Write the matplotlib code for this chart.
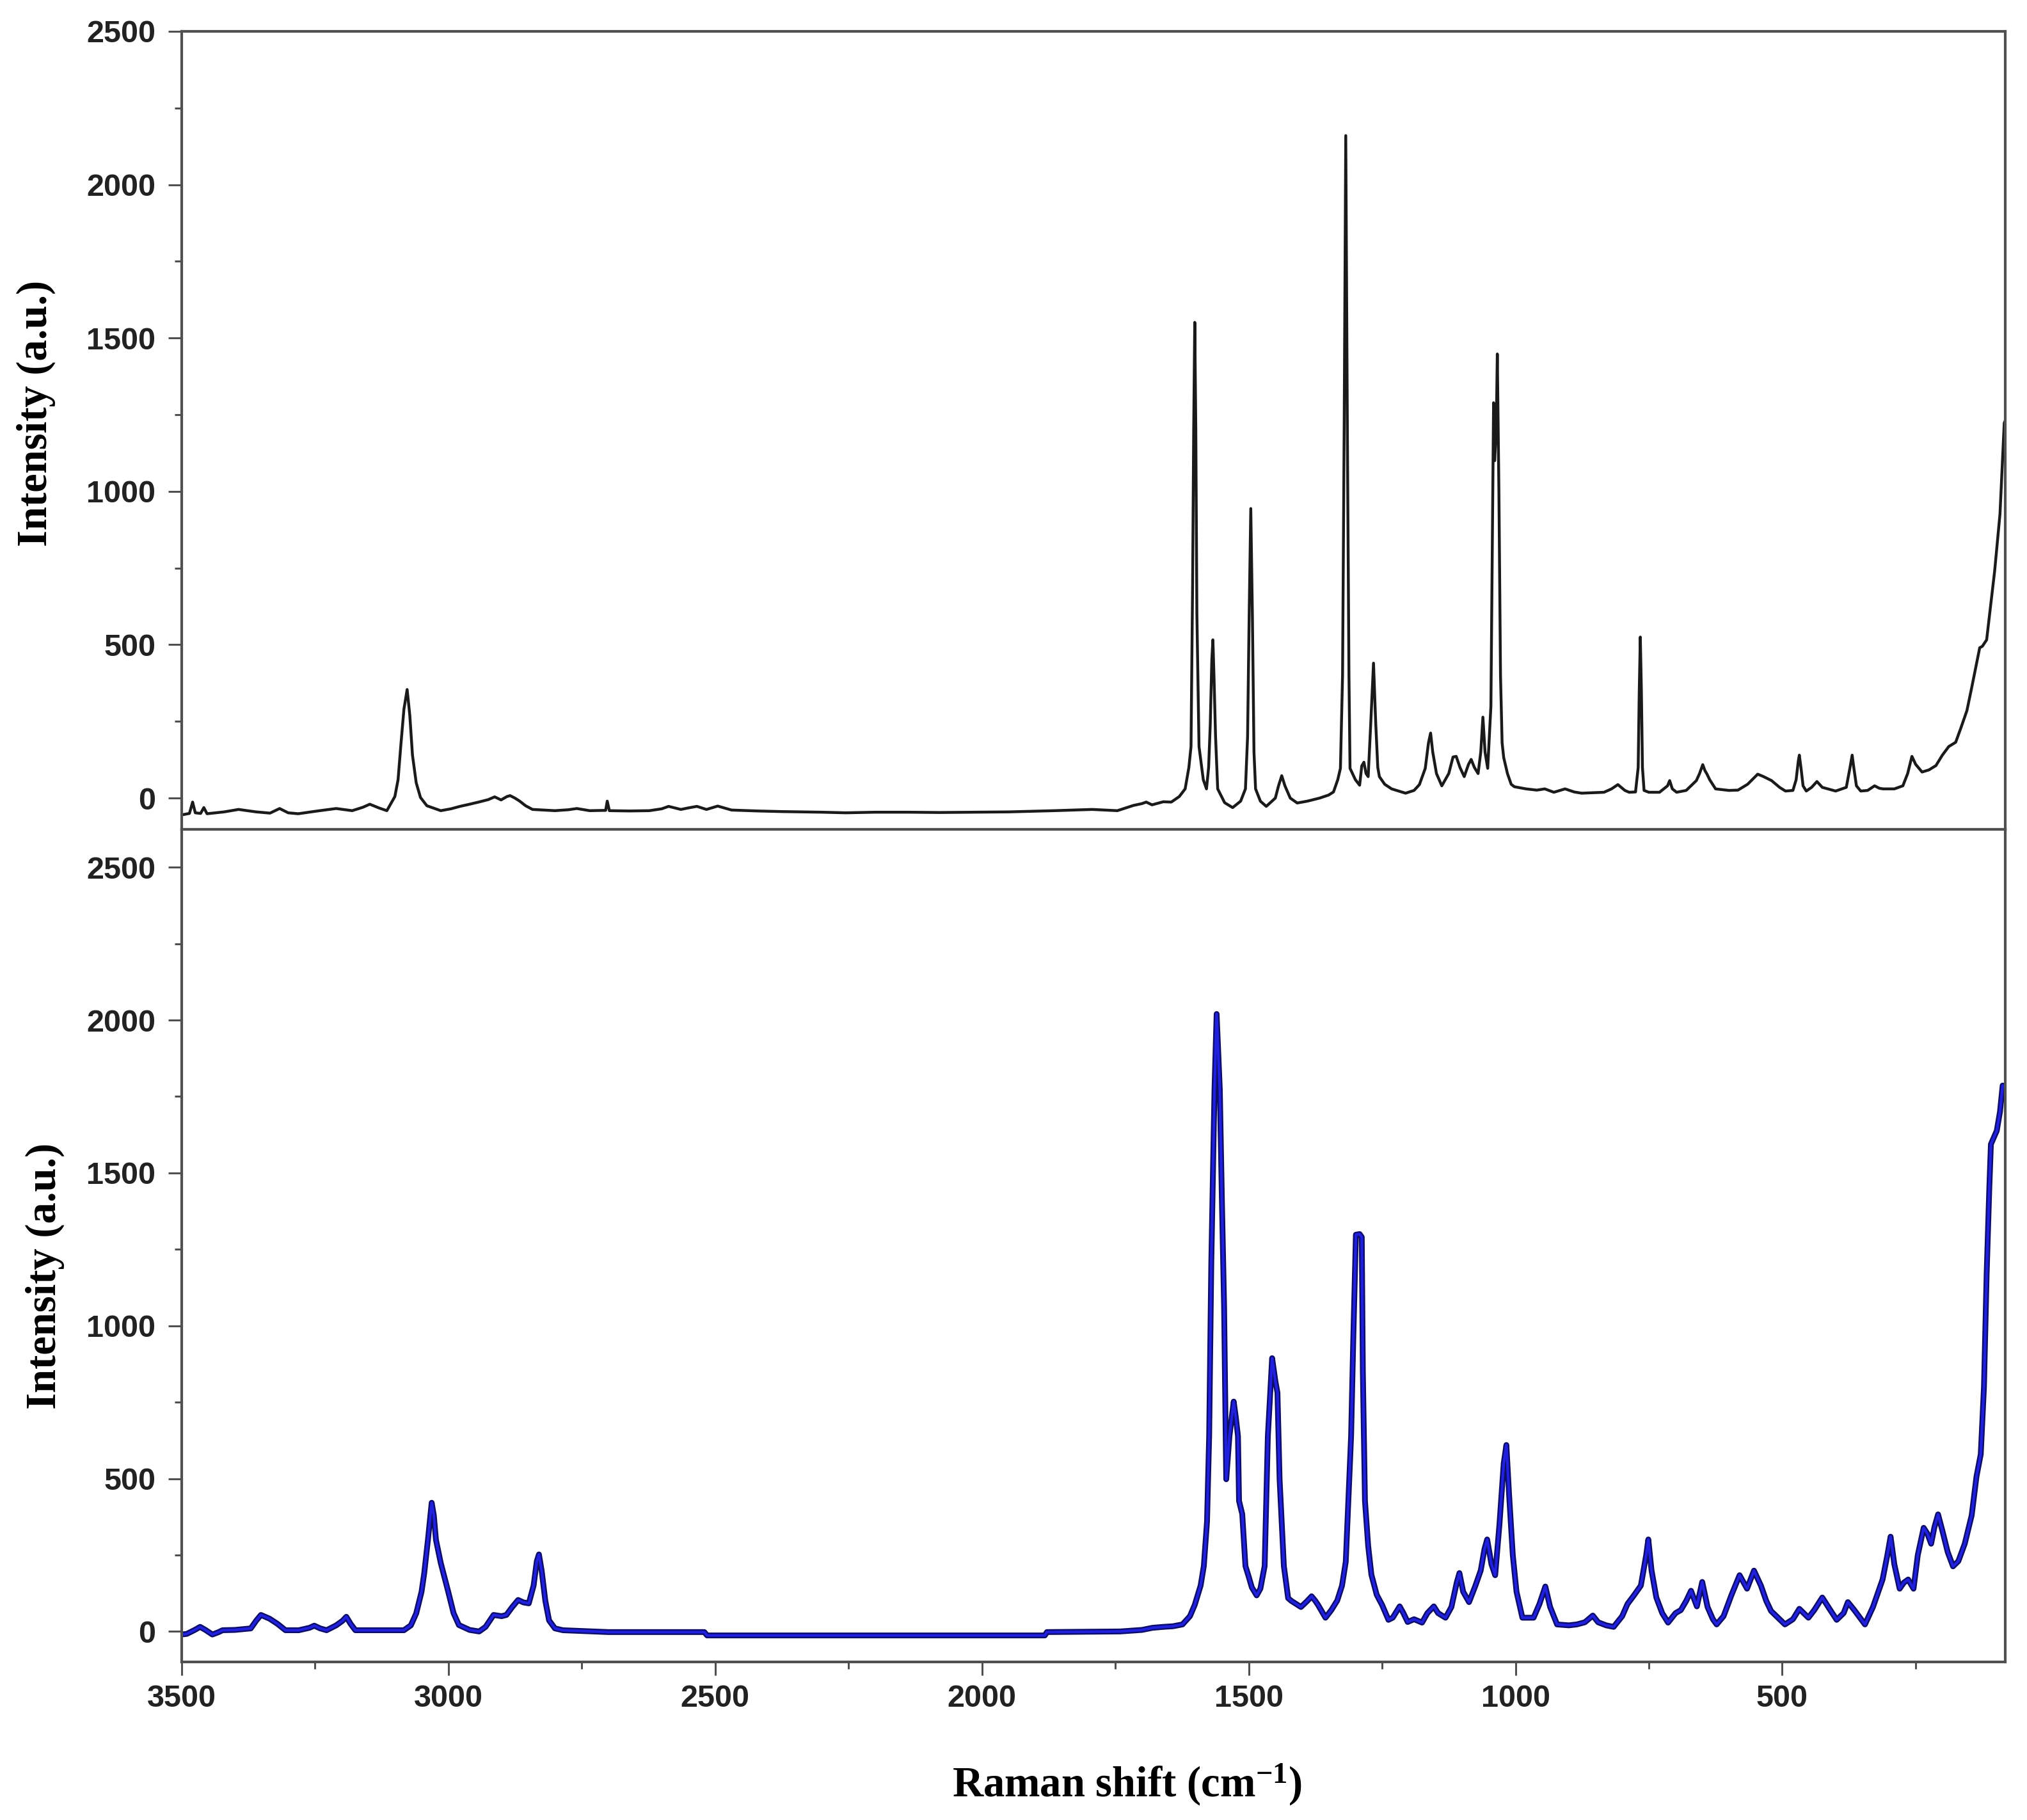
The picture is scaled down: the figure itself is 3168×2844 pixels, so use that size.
import matplotlib
matplotlib.use("Agg")
import matplotlib.pyplot as plt
from matplotlib.ticker import MultipleLocator

# ---------------- data ----------------
top_x = [3500, 3485, 3479, 3474, 3464, 3458, 3452, 3420, 3393, 3360, 3334, 3316, 3300, 3281,
         3245, 3210, 3180, 3160, 3147, 3130, 3115, 3100, 3094, 3089, 3083, 3077, 3072, 3067,
         3060, 3052, 3040, 3014, 2995, 2978, 2960, 2943, 2925, 2913, 2901, 2890, 2884, 2875,
         2866, 2855, 2842, 2800, 2775, 2759, 2735, 2705, 2702, 2698, 2660, 2623, 2600, 2587,
         2564, 2550, 2534, 2516, 2495, 2469, 2420, 2374, 2300, 2255, 2200, 2137, 2080, 2018,
         1950, 1864, 1793, 1746, 1716, 1700, 1692, 1681, 1660, 1645, 1630, 1619, 1612, 1608,
         1605, 1603, 1601, 1599, 1597, 1593, 1585, 1579, 1575, 1572, 1569, 1567, 1565, 1562,
         1558, 1545, 1530, 1515, 1506, 1502, 1499, 1496, 1493, 1490, 1487, 1478, 1467, 1450,
         1444, 1438, 1432, 1422, 1409, 1390, 1367, 1350, 1341, 1333, 1328, 1324, 1321, 1318,
         1315, 1312, 1310, 1300, 1292, 1288, 1284, 1280, 1276, 1271, 1266, 1262, 1258, 1255,
         1245, 1232, 1206, 1190, 1180, 1169, 1163, 1159, 1155, 1148, 1138, 1125, 1117, 1111,
         1104, 1096, 1088, 1083, 1077, 1070, 1065, 1061, 1057, 1052, 1046, 1043, 1041, 1039,
         1036, 1034, 1031, 1028, 1025, 1022, 1015, 1008, 1002, 980, 960, 945, 928, 907, 890,
         876, 850, 834, 820, 808, 795, 787, 775, 770, 768, 766, 764, 762, 759, 750, 730, 715,
         711, 706, 698, 680, 661, 655, 649, 645, 641, 636, 625, 600, 583, 565, 546, 535, 520,
         505, 494, 480, 474, 470, 468, 465, 461, 455, 445, 435, 425, 400, 380, 373, 369, 366,
         361, 353, 340, 327, 318, 311, 290, 274, 265, 257, 250, 238, 225, 212, 200, 188, 175,
         165, 154, 145, 135, 130, 125, 117, 110, 102, 92, 84, 81]
top_y = [-55, -50, -13, -48, -50, -31, -51, -45, -37, -45, -49, -34, -48, -51,
         -42, -34, -41, -30, -20, -32, -41, 5, 60, 168, 290, 354, 270, 140,
         50, 2, -25, -41, -35, -27, -20, -13, -5, 4, -6, 5, 8, 0,
         -10, -25, -37, -41, -38, -34, -41, -40, -10, -41, -42, -41, -35, -27,
         -37, -32, -27, -37, -26, -39, -42, -44, -46, -48, -46, -46, -47, -46,
         -45, -41, -37, -41, -24, -18, -13, -22, -12, -13, 5, 30, 100, 168,
         700, 1200, 1551, 1200, 600, 168, 60, 30, 100, 237, 450, 516, 400, 200,
         30, -15, -31, -10, 30, 200, 600, 944, 600, 150, 30, -10, -27, 0,
         40, 73, 40, 0, -16, -10, 0, 10, 20, 60, 97, 400, 1200, 2160,
         1200, 400, 97, 60, 42, 105, 117, 80, 70, 250, 440, 250, 100, 70,
         45, 30, 16, 25, 44, 97, 180, 212, 150, 80, 40, 80, 134, 136,
         100, 70, 110, 126, 100, 80, 150, 264, 150, 97, 300, 900, 1289, 1100,
         1200, 1448, 1000, 400, 180, 132, 80, 45, 37, 30, 26, 30, 19, 30, 20,
         16, 18, 19, 30, 44, 25, 19, 20, 100, 350, 525, 350, 100, 25, 19, 19, 40,
         57, 30, 19, 25, 57, 80, 109, 90, 78, 60, 30, 25, 26, 45, 78, 70, 57,
         35, 23, 25, 60, 120, 140, 100, 40, 23, 35, 54, 35, 23, 35, 100, 140, 100,
         40, 23, 25, 40, 32, 30, 30, 40, 80, 136, 110, 85, 92, 106, 140, 168, 182,
         230, 285, 360, 446, 490, 495, 516, 620, 740, 926, 1223, 1235]

bot_x = [3500, 3490, 3475, 3465, 3455, 3442, 3430, 3423, 3400, 3370, 3360, 3351, 3343, 3335,
         3320, 3305, 3280, 3260, 3251, 3240, 3228, 3210, 3198, 3191, 3183, 3174, 3130, 3083,
         3070, 3060, 3050, 3045, 3038, 3031, 3027, 3023, 3014, 3000, 2990, 2980, 2960, 2942,
         2930, 2915, 2900, 2891, 2880, 2869, 2859, 2849, 2840, 2834, 2830, 2825, 2818, 2811,
         2800, 2785, 2700, 2600, 2520, 2515, 2300, 2100, 1882, 1878, 1741, 1700, 1680, 1660,
         1642, 1624, 1610, 1601, 1590, 1584, 1578, 1574, 1570, 1564, 1560, 1554, 1550, 1546,
         1542, 1536, 1528, 1524, 1520, 1518, 1512, 1506, 1500, 1494, 1485, 1478, 1470, 1464,
         1456, 1450, 1446, 1442, 1434, 1426, 1420, 1402, 1390, 1382, 1375, 1370, 1356, 1345,
         1334, 1325, 1318, 1308, 1304, 1299, 1292, 1288, 1286, 1282, 1276, 1270, 1260, 1250,
         1238, 1230, 1217, 1210, 1202, 1190, 1175, 1165, 1153, 1145, 1131, 1120, 1110, 1105,
         1098, 1087, 1075, 1065, 1058, 1053, 1045, 1038, 1030, 1022, 1017, 1012, 1005, 998,
         987, 966, 955, 944, 935, 922, 900, 885, 870, 855, 845, 830, 816, 800, 790, 778,
         765, 755, 751, 745, 736, 725, 714, 700, 690, 680, 671, 660, 650, 640, 630, 623,
         610, 595, 580, 566, 553, 540, 530, 521, 505, 495, 480, 468, 451, 440, 425, 410,
         398, 385, 377, 365, 345, 330, 312, 303, 297, 290, 280, 272, 264, 254, 246, 235,
         228, 221, 215, 208, 200, 190, 180, 170, 158, 145, 136, 128, 122, 117, 112, 109,
         98, 92, 87, 81]
bot_y = [-10, -8, 5, 15, 5, -10, -2, 4, 5, 10, 35, 54, 48, 42,
         25, 4, 4, 12, 19, 10, 4, 20, 35, 48, 25, 4, 4, 4,
         20, 59, 130, 190, 300, 421, 380, 300, 224, 130, 60, 21, 5, 0,
         15, 54, 50, 54, 80, 103, 95, 92, 150, 230, 252, 200, 100, 36,
         10, 4, -2, -2, -2, -13, -13, -13, -13, -2, 0, 5, 12, 15,
         17, 23, 50, 87, 150, 214, 360, 639, 1206, 1772, 2020, 1772, 1400, 1063,
         498, 639, 752, 700, 639, 427, 384, 214, 180, 144, 118, 140, 214, 639,
         894, 820, 781, 498, 214, 109, 100, 80, 100, 115, 100, 87, 45, 70,
         101, 150, 228, 639, 950, 1298, 1300, 1290, 852, 427, 280, 186, 120, 87,
         38, 45, 82, 60, 31, 40, 29, 60, 82, 60, 45, 80, 160, 191,
         130, 96, 150, 200, 270, 301, 220, 184, 350, 550, 610, 450, 250, 130,
         45, 45, 90, 147, 80, 23, 20, 23, 30, 52, 30, 20, 15, 50, 90, 118,
         150, 250, 301, 200, 111, 60, 29, 60, 70, 100, 133, 82, 162, 80, 40, 23,
         50, 120, 184, 140, 199, 150, 100, 67, 40, 23, 40, 74, 45, 70, 111, 70,
         38, 60, 96, 70, 23, 80, 170, 250, 310, 220, 140, 160, 170, 140, 250, 339,
         320, 287, 340, 383, 330, 260, 213, 230, 287, 380, 507, 580, 800, 1168, 1450, 1594,
         1638, 1700, 1786, 1780]

y_ticks = [0, 500, 1000, 1500, 2000, 2500]
x_ticks = [3500, 3000, 2500, 2000, 1500, 1000, 500]
ylabel_text = "Intensity (a.u.)"
xlabel_text = r"Raman shift (cm$^{-1}$)"

# ---------------- style ----------------
plt.rcParams['mathtext.fontset'] = 'custom'
plt.rcParams['mathtext.rm'] = 'Liberation Serif:bold'
plt.rcParams['mathtext.bf'] = 'Liberation Serif:bold'
plt.rcParams['mathtext.it'] = 'Liberation Serif:bold'
plt.rcParams['mathtext.default'] = 'rm'

spine_col = '#505050'
W, H = 3168, 2844
fig = plt.figure(figsize=(W / 100, H / 100), dpi=100)
ax1 = fig.add_axes([0.0895, 0.5443, 0.8998, 0.4385])
ax2 = fig.add_axes([0.0895, 0.0868, 0.8998, 0.4575])

ax1.plot(top_x, top_y, color='#1a1a1a', lw=3.2, solid_joinstyle='round')
ax2.plot(bot_x, bot_y, color='#0c0c6a', lw=6.5, solid_joinstyle='round')
ax2.plot(bot_x, bot_y, color='#2020dd', lw=3.0, solid_joinstyle='round')

ax1.set_ylim(-102, 2500)
ax2.set_ylim(-100, 2624)

for ax in (ax1, ax2):
    ax.set_xlim(3500, 82)
    ax.set_xticks(x_ticks)
    ax.set_yticks(y_ticks)
    ax.xaxis.set_minor_locator(MultipleLocator(250))
    ax.yaxis.set_minor_locator(MultipleLocator(250))
    for s in ax.spines.values():
        s.set_color(spine_col)
        s.set_linewidth(3.0)
    ax.tick_params(which='major', direction='out', length=15, width=2.2, color=spine_col,
                   top=False, right=False)
    ax.tick_params(which='minor', direction='out', length=8, width=2.2, color=spine_col,
                   top=False, right=False)
    ax.tick_params(axis='y', which='major', pad=14)
    ax.tick_params(axis='x', which='major', pad=10)
    for lab in ax.get_yticklabels() + ax.get_xticklabels():
        lab.set_fontfamily('Liberation Sans')
        lab.set_fontweight('bold')
        lab.set_fontsize(35)
        lab.set_color('#222222')

ax1.tick_params(axis='x', labelbottom=False)

fig.text(56 / W, 1 - 646 / H, ylabel_text, rotation=90, ha='center', va='center',
         fontfamily='Liberation Serif', fontweight='bold', fontsize=48)
fig.text(70 / W, 1 - 1994 / H, ylabel_text, rotation=90, ha='center', va='center',
         fontfamily='Liberation Serif', fontweight='bold', fontsize=48)
fig.text(1761 / W, 1 - 2807 / H, xlabel_text, ha='center', va='baseline',
         fontfamily='Liberation Serif', fontweight='bold', fontsize=48)

fig.savefig('out.png', dpi=100)
